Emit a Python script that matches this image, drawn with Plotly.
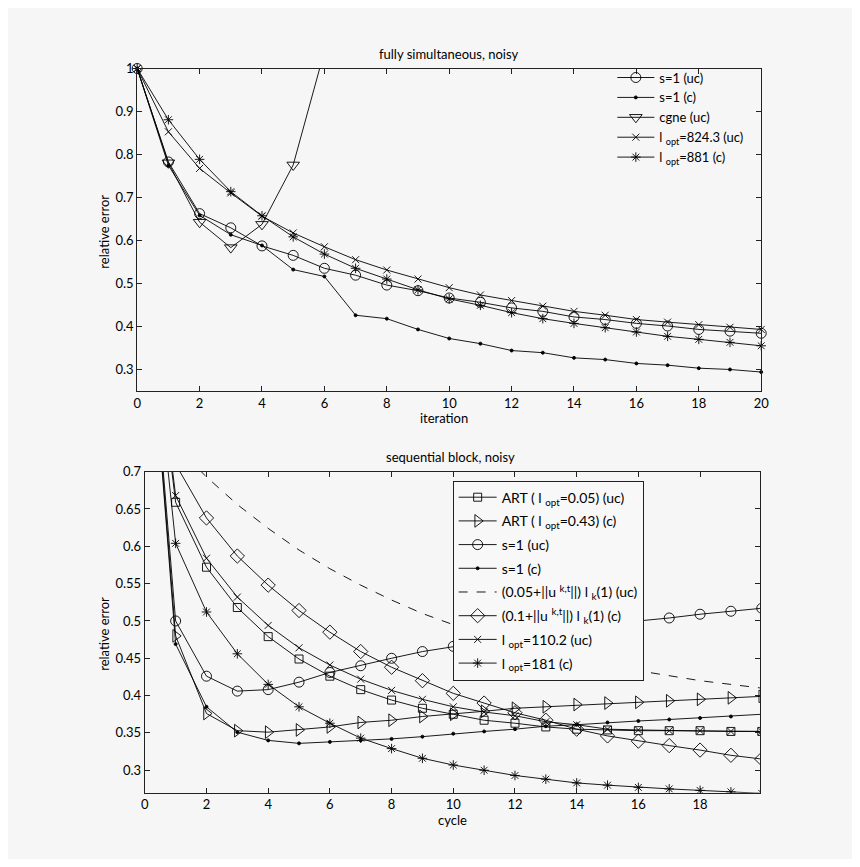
import plotly.graph_objects as go

# ---------------- data: top panel (fully simultaneous, noisy) ----------------
iters = list(range(0, 21))
s1_uc_top = [1.0, 0.783, 0.663, 0.630, 0.588, 0.566, 0.536, 0.520, 0.497, 0.484, 0.467,
             0.457, 0.444, 0.436, 0.423, 0.417, 0.408, 0.402, 0.394, 0.390, 0.385]
s1_c_top = [1.0, 0.775, 0.659, 0.614, 0.589, 0.533, 0.517, 0.427, 0.419, 0.394, 0.373,
            0.361, 0.345, 0.340, 0.328, 0.324, 0.315, 0.311, 0.304, 0.301, 0.295]
cgne_iters = [0, 1, 2, 3, 4, 5, 6]
cgne_uc = [1.0, 0.781, 0.643, 0.584, 0.638, 0.776, 1.04]
lopt824_uc = [1.0, 0.853, 0.768, 0.711, 0.657, 0.618, 0.586, 0.556, 0.532, 0.511, 0.491,
              0.474, 0.461, 0.448, 0.436, 0.427, 0.417, 0.411, 0.405, 0.399, 0.394]
lopt881_c = [1.0, 0.881, 0.789, 0.714, 0.658, 0.609, 0.569, 0.536, 0.511, 0.486, 0.465,
             0.450, 0.433, 0.419, 0.408, 0.398, 0.388, 0.378, 0.371, 0.364, 0.356]
top_xticks = [0, 2, 4, 6, 8, 10, 12, 14, 16, 18, 20]

# ---------------- data: bottom panel (sequential block, noisy) ----------------
cycles = list(range(0, 21))
art_uc = [1.0, 0.659, 0.572, 0.518, 0.479, 0.449, 0.426, 0.408, 0.394, 0.383, 0.375,
          0.367, 0.363, 0.358, 0.355, 0.354, 0.353, 0.353, 0.353, 0.352, 0.352]
art_c = [1.0, 0.480, 0.376, 0.353, 0.351, 0.354, 0.358, 0.364, 0.367, 0.372, 0.375,
         0.379, 0.383, 0.385, 0.388, 0.390, 0.391, 0.393, 0.395, 0.397, 0.399]
s1_uc_bot = [1.0, 0.500, 0.426, 0.406, 0.408, 0.418, 0.431, 0.440, 0.450, 0.459, 0.466,
             0.472, 0.478, 0.484, 0.489, 0.495, 0.500, 0.504, 0.509, 0.513, 0.517]
s1_c_bot = [1.0, 0.469, 0.385, 0.351, 0.340, 0.336, 0.338, 0.340, 0.342, 0.345, 0.349,
            0.352, 0.355, 0.359, 0.361, 0.364, 0.366, 0.368, 0.370, 0.372, 0.375]
lk005_uc = [1.0, 0.734, 0.693, 0.656, 0.624, 0.595, 0.570, 0.548, 0.528, 0.510, 0.495,
            0.481, 0.469, 0.458, 0.448, 0.440, 0.433, 0.426, 0.420, 0.415, 0.410]
lk01_c = [1.0, 0.710, 0.638, 0.587, 0.548, 0.514, 0.485, 0.459, 0.438, 0.420, 0.403,
          0.390, 0.377, 0.367, 0.355, 0.346, 0.339, 0.333, 0.327, 0.320, 0.315]
lopt110_uc = [1.0, 0.668, 0.584, 0.532, 0.494, 0.464, 0.441, 0.422, 0.407, 0.395, 0.385,
              0.378, 0.373, 0.365, 0.361, 0.355, 0.354, 0.353, 0.353, 0.352, 0.352]
lopt181_c = [1.0, 0.604, 0.512, 0.456, 0.415, 0.385, 0.363, 0.343, 0.329, 0.316, 0.307,
             0.300, 0.293, 0.288, 0.283, 0.280, 0.277, 0.275, 0.273, 0.271, 0.269]
bot_xticks = [0, 2, 4, 6, 8, 10, 12, 14, 16, 18]

FONT = "Lato"
OFF = 8              # page body margin in the browser
W, H = 844, 851      # figure size so that figure + margins fill the 860x867 window
K = "black"


def px_x(p):
    return (p - OFF) / W


def px_y(p):
    return 1 - (p - OFF) / H


fig = go.Figure()


def add(x, y, name, symbol, size, xa, ya, legend, dash="solid", clip=True,
        mode="lines+markers", group=None):
    fig.add_trace(go.Scatter(
        x=x, y=y, name=name, mode=mode, xaxis=xa, yaxis=ya, legend=legend,
        cliponaxis=clip, legendgroup=group,
        line=dict(color=K, width=0.9, dash=dash),
        marker=dict(symbol=symbol, size=size, color=K, line=dict(color=K, width=0.9)),
    ))


# top traces
add(iters, s1_uc_top, "s=1 (uc)", "circle-open", 10, "x", "y", "legend", clip=False)
add(iters, s1_c_top, "s=1 (c)", "circle", 3, "x", "y", "legend", clip=False)
add(cgne_iters, cgne_uc, "cgne (uc)", "triangle-down-open", 11, "x", "y", "legend", clip=True)
add(iters, lopt824_uc, "l <sub>opt</sub>=824.3 (uc)", "x-thin-open", 7, "x", "y", "legend", clip=False)
add(iters, lopt881_c, "l <sub>opt</sub>=881 (c)", "asterisk-open", 8, "x", "y", "legend", clip=False)

# bottom traces
add(cycles, art_uc, "ART ( l <sub>opt</sub>=0.05) (uc)", "square-open", 8, "x2", "y2", "legend2", group="b1")
add(cycles, art_c, "ART ( l <sub>opt</sub>=0.43) (c)", "triangle-right-open", 11, "x2", "y2", "legend2", group="b2")
add(cycles, s1_uc_bot, "s=1 (uc)", "circle-open", 10, "x2", "y2", "legend2", group="b3")
add(cycles, s1_c_bot, "s=1 (c)", "circle", 3, "x2", "y2", "legend2", group="b4")
add(cycles, lk005_uc, "(0.05+||u <sup>k,t</sup>||) l <sub>k</sub>(1) (uc)", "circle", 1, "x2", "y2",
    "legend2", dash="dash", mode="lines", group="b5")
add(cycles, lk01_c, "(0.1+||u <sup>k,t</sup>||) l <sub>k</sub>(1) (c)", "diamond-open", 11, "x2", "y2",
    "legend2", group="b6")
add(cycles, lopt110_uc, "l <sub>opt</sub>=110.2 (uc)", "x-thin-open", 7, "x2", "y2", "legend2", group="b7")
add(cycles, lopt181_c, "l <sub>opt</sub>=181 (c)", "asterisk-open", 8, "x2", "y2", "legend2", group="b8")

axis_common = dict(showline=True, linecolor="#222", linewidth=1, mirror="ticks", ticks="inside",
                   ticklen=5, tickcolor="#222", showgrid=False, zeroline=False,
                   tickfont=dict(family=FONT, size=13, color=K))

fig.update_layout(
    width=W, height=H,
    margin=dict(l=0, r=0, t=0, b=0),
    paper_bgcolor="#f6f6f6", plot_bgcolor="rgba(0,0,0,0)",
    font=dict(family=FONT, size=12, color=K),
    xaxis=dict(domain=[px_x(135), px_x(768)], range=[0, 20], tickvals=top_xticks,
               anchor="y", **axis_common),
    yaxis=dict(domain=[px_y(387), px_y(61)], range=[0.25, 1.0], tick0=0.3, dtick=0.1,
               anchor="x", **axis_common),
    xaxis2=dict(domain=[px_x(142.7), px_x(766.7)], range=[0, 19.94], tickvals=bot_xticks,
                anchor="y2", **axis_common),
    yaxis2=dict(domain=[px_y(792), px_y(468)], range=[0.27, 0.7], tick0=0.3, dtick=0.05,
                anchor="x2", **axis_common),
    legend=dict(x=px_x(617), y=px_y(55), xanchor="left", yanchor="top",
                bgcolor="rgba(0,0,0,0)", borderwidth=0, itemwidth=37,
                font=dict(family=FONT, size=13, color=K), tracegroupgap=0),
    legend2=dict(x=px_x(455), y=px_y(477), xanchor="left", yanchor="top",
                 bgcolor="#f8f8f8", bordercolor="#222", borderwidth=1, itemwidth=38,
                 font=dict(family=FONT, size=14, color=K), tracegroupgap=2.5),
    showlegend=True,
)

annots = [
    dict(text="fully simultaneous, noisy", x=px_x(451), y=px_y(46)),
    dict(text="sequential block, noisy", x=px_x(453), y=px_y(453)),
    dict(text="iteration", x=px_x(446), y=px_y(414)),
    dict(text="cycle", x=px_x(455), y=px_y(820)),
    dict(text="relative error", x=px_x(101), y=px_y(226), textangle=-90),
    dict(text="relative error", x=px_x(101), y=px_y(632), textangle=-90),
]
for a in annots:
    fig.add_annotation(xref="paper", yref="paper", showarrow=False, xanchor="center",
                       yanchor="middle", font=dict(family=FONT, size=13, color=K), **a)

fig.write_html("out.html")
